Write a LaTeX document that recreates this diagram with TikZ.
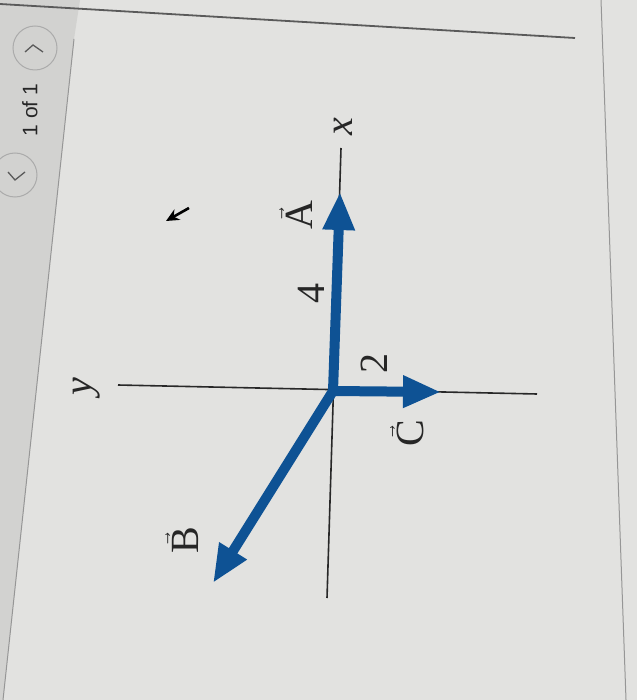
\documentclass[tikz,border=0pt]{standalone}
\usepackage{fontspec}
\setmainfont{Liberation Serif}
\newfontfamily\uifont{Liberation Sans}
\usetikzlibrary{arrows.meta}
\definecolor{vecblue}{RGB}{14,82,148}
\definecolor{bgmain}{RGB}{226,226,224}
\definecolor{bgdark}{RGB}{210,210,208}
\definecolor{axisgray}{RGB}{40,40,40}
\definecolor{uigray}{RGB}{150,150,150}
\begin{document}
\begin{tikzpicture}[x=1pt,y=-1pt,
  vec/.style={draw=vecblue,line width=10pt,-{Triangle[length=38pt,width=30pt]}},
  axisline/.style={draw=axisgray,line width=1.6pt},
  lab/.style={font=\fontsize{40}{44}\selectfont,rotate=90,text=black!85,inner sep=0pt},
  uiline/.style={draw=uigray,line width=1pt},
  uitext/.style={font=\uifont\fontsize{21}{24}\selectfont,rotate=90,text=black!85,inner sep=0pt}]
\path[use as bounding box] (0,0) rectangle (637,700);
\fill[bgmain] (0,0) rectangle (637,700);
\fill[bgdark] (0,0) -- (80,0) -- (74,39) -- (3,700) -- (0,700) -- cycle;
% screen frame lines
\draw[draw=uigray!60!black,line width=1.8pt] (0,4) -- (575,38);
\draw[uiline] (74,39) -- (3,700);
\draw[uiline] (601,0) -- (626,700);
% page controls
\node[circle,draw=uigray!80,line width=1pt,minimum size=44pt,inner sep=0pt] (next) at (35,48) {};
\node[circle,draw=uigray!80,line width=1pt,minimum size=44pt,inner sep=0pt] (prev) at (15,175) {};
\draw[uigray!60!black,line width=1.3pt] (25,52) -- (33,45) -- (43,52);
\draw[uigray!60!black,line width=1.3pt] (8,172) -- (15,180) -- (25,172);
\node[uitext] (page) at (30,110) {1 of 1};
% cursor
\coordinate (cur1) at (189,208);
\coordinate (cur2) at (166,221);
\draw[black,line width=2.6pt,-{Stealth[length=13pt,width=12pt]}] (cur1) -- (cur2);
% axes
\coordinate (yl) at (118,385);
\coordinate (yr) at (537,394);
\coordinate (xt) at (341,148);
\coordinate (xb) at (327,598);
\draw[axisline] (yl) -- (yr);
\draw[axisline] (xt) -- (xb);
\node[lab,font=\fontsize{40}{44}\selectfont\itshape] (xlab) at (343,127) {x};
\node[lab,font=\fontsize{40}{44}\selectfont\itshape] (ylab) at (87,387) {y};
% vectors
\coordinate (O) at (333,391);
\coordinate (Atip) at (340,192);
\coordinate (Ctip) at (441,392);
\coordinate (Btip) at (213,583);
\draw[vec] (O) -- (Atip);
\draw[vec] (O) -- (Ctip);
\draw[vec] (O) -- (Btip);
% labels
\node[lab] (Alab) at (296,215) {$\vec{\mathrm{A}}$};
\node[lab] (Blab) at (182,540) {$\vec{\mathrm{B}}$};
\node[lab] (Clab) at (407,433) {$\vec{\mathrm{C}}$};
\node[lab] (four) at (311,293) {4};
\node[lab] (two) at (374,363) {2};
\end{tikzpicture}
\end{document}
